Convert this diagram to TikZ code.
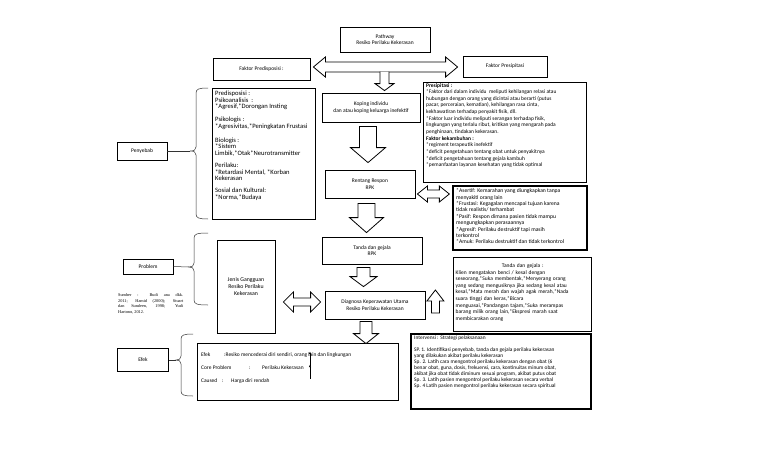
\documentclass[tikz,border=0pt]{standalone}
\usepackage{fontspec}
\setmainfont{Carlito}
\newfontfamily\srffont{Liberation Serif}
\usetikzlibrary{calc,arrows.meta}
\newcommand\fsA{\fontsize{5.5}{6.6}\selectfont}
\newcommand\fsB{\fontsize{5.45}{6.65}\selectfont}
\newcommand\fsP{\fontsize{6.6}{6.8}\selectfont}
\newcommand\fsS{\srffont\fontsize{4.3}{5.5}\selectfont}
% down block arrow: from, to, shaft half, head half, head length
\newcommand\vblk[5]{\draw[blk] let \p1=(#1), \p2=(#2) in (\x1-#3pt,\y1) -- (\x1-#3pt,\y2+#5pt) -- (\x1-#4pt,\y2+#5pt) -- (\x1,\y2) -- (\x1+#4pt,\y2+#5pt) -- (\x1+#3pt,\y2+#5pt) -- (\x1+#3pt,\y1) -- cycle;}
% up block arrow
\newcommand\ublk[5]{\draw[blk] let \p1=(#1), \p2=(#2) in (\x1-#3pt,\y1) -- (\x1-#3pt,\y2-#5pt) -- (\x1-#4pt,\y2-#5pt) -- (\x1,\y2) -- (\x1+#4pt,\y2-#5pt) -- (\x1+#3pt,\y2-#5pt) -- (\x1+#3pt,\y1) -- cycle;}
% horizontal double block arrow
\newcommand\hblk[5]{\draw[blk] let \p1=(#1), \p2=(#2) in (\x1,\y1) -- (\x1+#5pt,\y1+#4pt) -- (\x1+#5pt,\y1+#3pt) -- (\x2-#5pt,\y1+#3pt) -- (\x2-#5pt,\y1+#4pt) -- (\x2,\y1) -- (\x2-#5pt,\y1-#4pt) -- (\x2-#5pt,\y1-#3pt) -- (\x1+#5pt,\y1-#3pt) -- (\x1+#5pt,\y1-#4pt) -- cycle;}
% brace: name, x ends, x vertical, x tip, y top, y bottom, y tip
\newcommand\brc[7]{\draw[brc] (#2,#5) .. controls (#3+3,#5) and (#3,#5+1) .. (#3,#5+5) -- (#3,#7-4) .. controls (#3,#7-1) and (#3-2,#7) .. (#4,#7) .. controls (#3-2,#7) and (#3,#7+1) .. (#3,#7+4) -- (#3,#6-5) .. controls (#3,#6-1) and (#3+3,#6) .. (#2,#6);
\coordinate (#1) at (#4,#7);}
\begin{document}
\begin{tikzpicture}[x=1pt,y=-1pt,
  box/.style={draw=black, line width=0.8pt, inner sep=0pt, align=center, font=\fsA},
  tbox/.style={box, line width=1.3pt},
  txt/.style={inner sep=0pt, align=left, font=\fsB},
  blk/.style={draw=black, fill=white, line width=0.8pt, line join=miter},
  brc/.style={draw=black!80, line width=0.5pt},
  lnk/.style={draw=black!80, line width=0.5pt},
  sarr/.style={draw=black, line width=0.5pt, -{Latex[length=2.6pt,width=2.4pt]}}]
\useasboundingbox[fill=white] (0,0) rectangle (768,466);

% top row
\node[box, minimum width=90pt, minimum height=25pt] (pathway) at (385,39.5) {Pathway\\Resiko Perilaku Kekerasan};
\node[box, minimum width=97pt, minimum height=22pt] (faktorpre) at (261.5,69) {Faktor Predisposisi :};
\node[box, minimum width=84pt, minimum height=21pt] (faktorpres) at (505,66.5) {Faktor Presipitasi};

% predisposisi
\node[box, minimum width=103pt, minimum height=131pt] (predbox) at (263.5,153.5) {};
\node[txt, anchor=north west, font=\fsP] (predtxt) at (215,90.5) {Predisposisi :\\ Psikoanalisis~ :\\ *Agresif,*Dorongan Insting\\[6.2pt] Psikologis :\\ *Agresivitas,*Peningkatan Frustasi\\[6.7pt] Biologis :\\ *Sistem\\ Limbik,*Otak*Neurotransmitter\\[4.7pt] Perilaku:\\ *Retardasi Mental, *Korban\\ Kekerasan\\[5.2pt] Sosial dan Kultural:\\ *Norma,*Budaya};

% koping
\node[box, minimum width=98pt, minimum height=29pt] (koping) at (371,107.5) {Koping individu\\dan atau koping keluarga inefektif};

% presipitasi
\node[box, minimum width=163pt, minimum height=100pt] (presbox) at (504.5,132) {};
\node[txt, anchor=north west] (prestxt) at (426,83) {\textbf{Presipitasi :}\\ *Faktor dari dalam individu~ meliputi kehilangan relasi atau\\ hubungan dengan orang yang dicintai atau berarti (putus\\ pacar, perceraian, kematian), kehilangan rasa cinta,\\ kekhawatiran terhadap penyakit fisik, dll.\\ *Faktor luar individu meliputi serangan terhadap fisik,\\ lingkungan yang terlalu ribut, kritikan yang mengarah pada\\ penghinaan, tindakan kekerasan.\\ \textbf{Faktor kekambuhan :}\\ *regiment terapeutik inefektif\\ *deficit pengetahuan tentang obat untuk penyakitnya\\ *deficit pengetahuan tentang gejala kambuh\\ *pemanfaatan layanan kesehatan yang tidak optimal};

% rentang respon
\node[box, minimum width=90pt, minimum height=28pt] (rentang) at (370,184) {Rentang Respon\\RPK};
\node[tbox, minimum width=134pt, minimum height=64pt] (aspbox) at (520,218) {};
\node[txt, anchor=north west, font=\fontsize{5.65}{6.4}\selectfont] (asptxt) at (456,188.5) {*Asertif: Kemarahan yang diungkapkan tanpa\\ menyakiti orang lain\\ *Frustasi: Kegagalan mencapai tujuan karena\\ tidak realistis/ terhambat\\ *Pasif: Respon dimana pasien tidak mampu\\ mengungkapkan perasaannya\\ *Agresif: Perilaku destruktif tapi masih\\ terkontrol\\ *Amuk: Perilaku destruktif dan tidak terkontrol};

% tanda dan gejala
\node[box, minimum width=100pt, minimum height=27pt] (tandarpk) at (372,250.5) {Tanda dan gejala\\RPK};
\node[box, minimum width=58pt, minimum height=93pt, font=\fontsize{5.8}{6.6}\selectfont] (jenis) at (246,286.5) {Jenis Gangguan\\Resiko Perilaku\\Kekerasan};
\node[box, minimum width=100pt, minimum height=28pt] (diagnosa) at (375,305) {Diagnosa Keperawatan Utama\\Resiko Perilaku Kekerasan};
\node[box, minimum width=138pt, minimum height=74pt] (tandabox) at (522,294) {};
\node[txt, anchor=north west, text width=134pt, font=\fontsize{5.5}{6.6}\selectfont] (tandatxt) at (455.5,263.5) {\makebox[\linewidth][c]{Tanda dan gejala :}\\ *Klien mengatakan benci / kesal dengan\\ seseorang,*Suka membentak,*Menyerang orang\\ yang sedang mengusiknya jika sedang kesal atau\\ kesal,*Mata merah dan wajah agak merah,*Nada\\ suara tinggi dan keras,*Bicara\\ menguasai,*Pandangan tajam,*Suka merampas\\ barang milik orang lain,*Ekspresi marah saat\\ membicarakan orang};

% efek box
\node[box, minimum width=201pt, minimum height=57pt] (efekbox) at (297.5,371.5) {};
\node[txt, anchor=base west] (e1a) at (201,356) {Efek};
\node[txt, anchor=base west] (e1b) at (224,356) {:Resiko mencederai diri sendiri, orang lain dan lingkungan};
\node[txt, anchor=base west] (e2a) at (201,369) {Core Problem};
\node[txt, anchor=base west] (e2b) at (249,369) {:};
\node[txt, anchor=base west] (e2c) at (262,369) {Perilaku Kekerasan};
\node[txt, anchor=base west] (e3a) at (201,382) {Caused};
\node[txt, anchor=base west] (e3b) at (222,382) {:};
\node[txt, anchor=base west] (e3c) at (231,382) {Harga diri rendah};
\coordinate (ar1a) at (310,365.5);
\coordinate (ar1b) at (310,351.5);
\coordinate (ar2a) at (310,378.5);
\coordinate (ar2b) at (310,364.5);
\draw[sarr] (ar1a) -- (ar1b);
\draw[sarr] (ar2a) -- (ar2b);

% intervensi
\node[tbox, minimum width=180pt, minimum height=75pt] (intbox) at (501,371.5) {};
\node[txt, anchor=north west, font=\fontsize{5.4}{6.1}\selectfont] (inttxt) at (414,336) {Intervensi : Strategi pelaksanaan\\[5.2pt] SP. 1. Identifikasi penyebab, tanda dan gejala perilaku kekerasan\\ yang dilakukan akibat perilaku kekerasan\\ Sp. 2. Latih cara mengontrol perilaku kekerasan dengan obat (6\\ benar obat, guna, dosis, frekuensi, cara, kontinuitas minum obat,\\ akibat jika obat tidak diminum sesuai program, akibat putus obat\\ Sp. 3. Latih pasien mengontrol perilaku kekerasan secara verbal\\ Sp. 4 Latih pasien mengontrol perilaku kekerasan secara spiritual};

% left labels
\node[box, minimum width=50pt, minimum height=18pt] (penyebab) at (142,151) {Penyebab};
\node[box, minimum width=50pt, minimum height=15pt] (problem) at (148,266.5) {Problem};
\node[box, minimum width=51pt, minimum height=23pt] (efek) at (143,360) {Efek};
\node[inner sep=0pt, anchor=north west, text width=65pt, align=justify, font=\fsS] (sumber) at (118,293.5) {Sumber : Budi ana dkk.\linebreak 2011; Hamid (2000); Stuart\linebreak dan Sundeen, 1998; Yudi\linebreak Hartono, 2012.};

% braces
\brc{bt1}{208}{196}{190}{88}{219}{151}
\brc{bt2}{208}{194}{189}{233}{305}{267}
\brc{bt3}{193}{181}{176}{334}{396}{360}
\draw[lnk] (penyebab.east) -- (bt1);
\draw[lnk] (problem.east) -- (bt2);
\draw[lnk] (efek.east) -- (bt3);

% block arrows
\hblk{$(faktorpre.east)+(3,-2)$}{$(faktorpres.west)+(-5,0)$}{5}{10}{12}
\coordinate (jtop) at (384.5,71.6);
\coordinate (jbot) at ($(koping.north)+(13.5,-2)$);
\fill[white] (380,71.6) rectangle (389,83);
\draw[blk, fill=none] let \p1=(jtop), \p2=(jbot) in (\x1-4.5pt,\y1) -- (\x1-4.5pt,\y2+7pt) -- (\x1-9.5pt,\y2+7pt) -- (\x1,\y2) -- (\x1+9.5pt,\y2+7pt) -- (\x1+4.5pt,\y2+7pt) -- (\x1+4.5pt,\y1);
\vblk{$(koping.south)+(-3,4)$}{$(rentang.north)+(0,-7)$}{8.5}{17.5}{15}
\vblk{$(rentang.south)+(-3.5,5)$}{$(tandarpk.north)+(0,-4)$}{8.5}{17}{15}
\vblk{$(tandarpk.south)+(-8.5,3)$}{$(diagnosa.north)+(0,-4)$}{6.5}{13.5}{10}
\vblk{$(diagnosa.south)+(-9,2)$}{$(efekbox.north)+(0,1)$}{6}{12.5}{10}
\hblk{$(jenis.east)+(8,15.5)$}{$(diagnosa.west)+(-4,0)$}{4}{10}{10}
\hblk{$(rentang.east)+(2,10)$}{$(aspbox.west)+(-3,0)$}{4}{8}{10}
\ublk{$(diagnosa.east)+(10,8)$}{$(diagnosa.east)+(10,-15)$}{4}{8.5}{11}
\end{tikzpicture}
\end{document}
